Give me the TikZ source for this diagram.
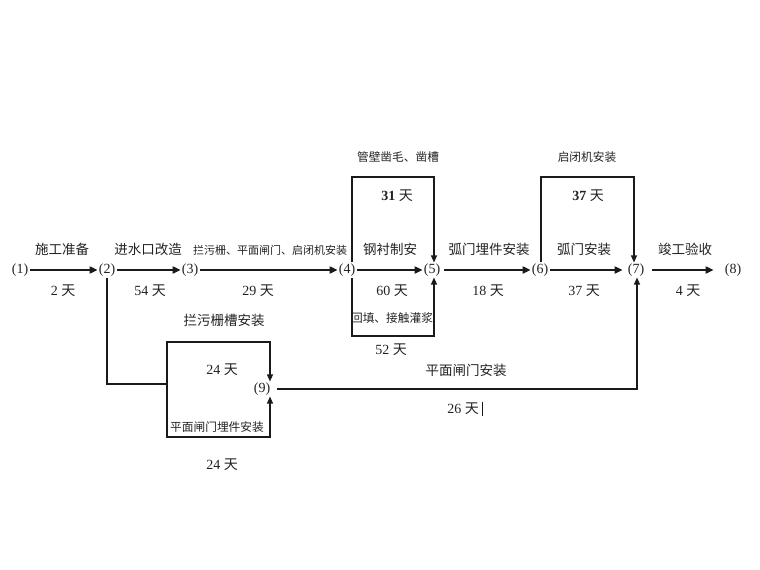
\documentclass[tikz,border=0pt]{standalone}
\usepackage{fontspec}
\setmainfont{Liberation Serif}
\newfontfamily\cjk{Noto Sans CJK SC}
\usetikzlibrary{arrows.meta}

\newcommand{\tian}[1]{#1~{\cjk 天}}

\begin{document}
\begin{tikzpicture}[
    every node/.style={font=\fontsize{14}{16}\selectfont, inner sep=1pt},
    % pixel coordinates: 760 x 570, y grows downwards
    x=1pt, y=-1pt,
]

% ---------------------------------------------------------------- colours
\definecolor{linecolor}{HTML}{1A1A1A}
\definecolor{labelcolor}{HTML}{222222}

\tikzset{
    ev/.style={text=labelcolor},
    act/.style={text=labelcolor, font=\cjk\fontsize{13.5}{16}\selectfont},
    actn/.style={text=labelcolor, font=\cjk\fontsize{11.7}{14}\selectfont},
    dur/.style={text=labelcolor},
    arr/.style={-{Triangle[length=8pt, width=7pt]}, line width=1.8pt,
                linecolor, shorten <=1pt},
    link/.style={-{Triangle[length=7pt, width=6pt]}, line width=1.2pt,
                 linecolor},
}

\useasboundingbox (0,0) rectangle (760,570);

% ---------------------------------------------------------------- events
\node[ev] (e1) at (20,270) {(1)};
\node[ev] (e2) at (107,270) {(2)};
\node[ev] (e3) at (190,270) {(3)};
\node[ev] (e4) at (347,270) {(4)};
\node[ev] (e5) at (432,270) {(5)};
\node[ev] (e6) at (540,270) {(6)};
\node[ev] (e7) at (636,270) {(7)};
\node[ev] (e8) at (733,270) {(8)};
\node[ev] (e9) at (262,389) {(9)};

% ---------------------------------------------------------------- main line
\draw[arr] (e1) -- (e2);
\draw[arr] (e2) -- (e3);
\draw[arr] (e3) -- (e4);
\draw[arr] (e4) -- (e5);
\draw[arr, shorten <=3pt] (e5) -- (e6);
\draw[arr, shorten >=4pt] (e6) -- (e7);
\draw[arr, shorten <=7pt, shorten >=10pt] (e7) -- (e8);

\node[act] (l12) at (62,249) {施工准备};
\node[act] (l23) at (148,249) {进水口改造};
\node[actn, font=\cjk\fontsize{11}{14}\selectfont] (l34) at (270,250)
    {拦污栅、平面闸门、启闭机安装};
\node[act] (l45) at (390,249) {钢衬制安};
\node[act] (l56) at (489,249) {弧门埋件安装};
\node[act] (l67) at (584,249) {弧门安装};
\node[act] (l78) at (685,249) {竣工验收};

\node[dur] (d12) at (63,291) {\tian{2}};
\node[dur] (d23) at (150,291) {\tian{54}};
\node[dur] (d34) at (258,291) {\tian{29}};
\node[dur] (d45) at (392,291) {\tian{60}};
\node[dur] (d56) at (488,291) {\tian{18}};
\node[dur] (d67) at (584,291) {\tian{37}};
\node[dur] (d78) at (688,291) {\tian{4}};

% ---------------------------------------------------------------- (4) to (5)
\coordinate (t4) at (352,177);
\coordinate (t5) at (434,177);
\draw[link] (e4.north -| t4) -- (t4) -- (t5) -- (e5.north -| t5);
\node[actn] (l45a) at (398,157) {管壁凿毛、凿槽};
\node[dur] (d45a) at (397,196) {\tian{\textbf{31}}};

\coordinate (b4) at (352,336);
\coordinate (b5) at (434,336);
\draw[link] (e4.south -| b4) -- (b4) -- (b5) -- (e5.south -| b5);
\node[actn] (l45b) at (392,318) {回填、接触灌浆};
\node[dur] (d45b) at (391,350) {\tian{52}};

% ---------------------------------------------------------------- (6) to (7)
\coordinate (t6) at (541,177);
\coordinate (t7) at (634,177);
\draw[link] (e6.north -| t6) -- (t6) -- (t7) -- (e7.north -| t7);
\node[actn] (l67a) at (587,157) {启闭机安装};
\node[dur] (d67a) at (588,196) {\tian{\textbf{37}}};

% ---------------------------------------------------------------- (2) to (9)
\coordinate (c2) at (107,384);
\coordinate (c9) at (167,384);
\coordinate (g1) at (167,342);
\coordinate (g2) at (270,342);
\coordinate (h1) at (167,437);
\coordinate (h2) at (270,437);
\draw[link, -] (e2.south) -- (c2) -- (c9);
\draw[link] (c9) -- (g1) -- (g2) -- (e9.north -| g2);
\draw[link] (c9) -- (h1) -- (h2) -- (e9.south -| h2);
\node[act] (l29a) at (224,320) {拦污栅槽安装};
\node[dur] (d29a) at (222,370) {\tian{24}};
\node[actn] (l29b) at (217,427) {平面闸门埋件安装};
\node[dur] (d29b) at (222,465) {\tian{24}};

% ---------------------------------------------------------------- (9) to (7)
\coordinate (k7) at (637,389);
\draw[link, shorten <=6pt] (e9) -- (k7) -- (e7.south -| k7);
\node[act] (l97) at (466,370) {平面闸门安装};
\node[dur] (d97) at (463,409) {\tian{26}};
\draw[linecolor, line width=0.8pt]
    ([xshift=2pt]d97.north east) -- ([xshift=2pt]d97.south east);

\end{tikzpicture}
\end{document}
